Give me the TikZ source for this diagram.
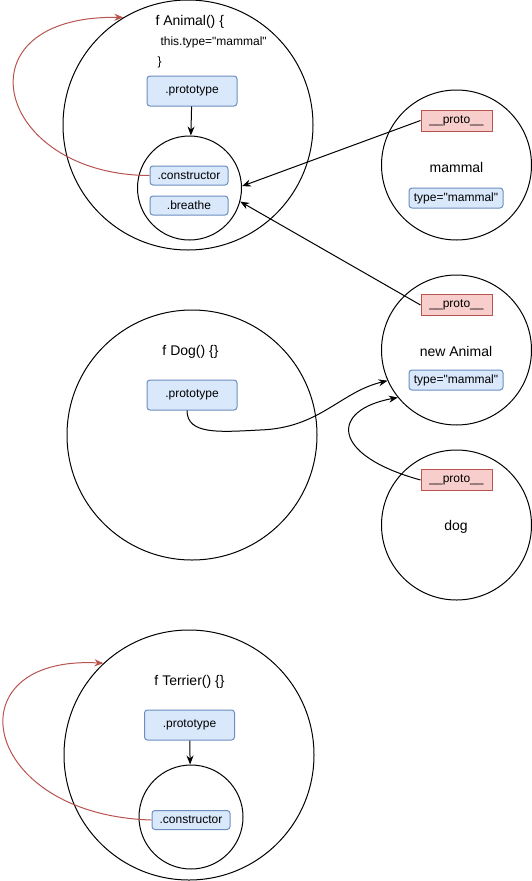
\documentclass[tikz,border=0pt]{standalone}
\usepackage{fontspec}
\setmainfont{Liberation Sans}[Ligatures=TeXOff]
\usetikzlibrary{arrows.meta}

\definecolor{fieldfill}{HTML}{DAE8FC}
\definecolor{fieldline}{HTML}{6C8EBF}
\definecolor{linkfill}{HTML}{F8CECC}
\definecolor{linkline}{HTML}{B85450}

\begin{document}
\begin{tikzpicture}[
    x=1pt, y=-1pt, line width=1pt,
    >={Stealth[length=9pt, width=7pt]}, % drawio-like arrows
    % Styles
    func/.style={ % Function object
        circle,
        draw,
        minimum size=250pt,
        inner sep=0pt
    },
    protocircle/.style={ % Prototype object
        circle,
        draw,
        minimum size=104pt,
        inner sep=0pt
    },
    instance/.style={ % Plain object
        circle,
        draw,
        minimum size=150pt,
        inner sep=0pt
    },
    field/.style={ % Property box
        rectangle,
        rounded corners=3pt,
        draw=fieldline,
        fill=fieldfill,
        inner sep=0pt,
        font=\fontsize{12}{14}\selectfont
    },
    link/.style={ % __proto__ box
        rectangle,
        draw=linkline,
        fill=linkfill,
        minimum width=71pt,
        minimum height=21pt,
        inner sep=0pt,
        font=\fontsize{12}{14}\selectfont
    },
    title/.style={
        inner sep=0pt,
        font=\fontsize{14}{16}\selectfont
    },
    code/.style={
        inner sep=0pt,
        font=\fontsize{12}{14}\selectfont
    },
    arrow/.style={
        ->
    },
    backlink/.style={ % constructor arrows
        arrow,
        draw=linkline
    }
]
    \useasboundingbox (0,0) rectangle (532,881);

    % Animal function
    \node[func] (animal) at (188,125) {};
    \node[title, anchor=west] (animalhead) at (155,22) {f Animal() \{};
    \node[code, anchor=west] (animalbody) at (160,42) {this.type="mammal"};
    \node[code, anchor=west] (animalend) at (157,62) {\}};
    \node[field, minimum width=90pt, minimum height=30pt] (animalprototype) at (192,91) {.prototype};
    \node[protocircle] (animalproto) at (189.5,188) {};
    \node[field, minimum width=78pt, minimum height=19pt] (animalctor) at (189,175.5) {.constructor};
    \node[field, minimum width=78pt, minimum height=19pt] (breathe) at (189,205.5) {.breathe};

    % mammal object
    \node[instance] (mammal) at (456.5,165) {};
    \node[link] (mammallink) at (456.5,120.5) {\_\_proto\_\_};
    \node[title] (mammalname) at (456.5,167) {mammal};
    \node[field, minimum width=94pt, minimum height=20pt] (mammaltype) at (456,198) {type="mammal"};

    % new Animal object
    \node[instance] (newanimal) at (456.5,350) {};
    \node[link] (newanimallink) at (456.5,305) {\_\_proto\_\_};
    \node[title] (newanimalname) at (456,351) {new Animal};
    \node[field, minimum width=94pt, minimum height=20pt] (newanimaltype) at (456,380) {type="mammal"};

    % dog object
    \node[instance] (dog) at (456.5,525) {};
    \node[link] (doglink) at (456.5,480) {\_\_proto\_\_};
    \node[title] (dogname) at (456,527) {dog};

    % Dog function
    \node[func] (dogfunc) at (192,435) {};
    \node[title] (doghead) at (190.5,352) {f Dog() \{\}};
    \node[field, minimum width=90pt, minimum height=30pt] (dogprototype) at (192,395) {.prototype};

    % Terrier function
    \node[func] (terrier) at (189,755) {};
    \node[title] (terrierhead) at (189.5,682) {f Terrier() \{\}};
    \node[field, minimum width=90pt, minimum height=30pt] (terrierprototype) at (189.5,725) {.prototype};
    \node[protocircle] (terrierproto) at (191,817) {};
    \node[field, minimum width=78pt, minimum height=19pt] (terrierctor) at (191,820) {.constructor};

    % prototype arrows
    \draw[arrow] (animalprototype) -- (animalproto);
    \draw[arrow] (terrierprototype) -- (terrierproto);

    % __proto__ arrows
    \draw[arrow] (mammallink.west) -- (animalproto.2);
    \draw[arrow] (newanimallink.west) -- (animalproto.-15);
    \draw[arrow] (doglink.west) .. controls (330,455) and (330,410) .. (newanimal.219);
    \draw[arrow] ([xshift=-5pt]dogprototype.south) .. controls (187,435) and (220,432) .. (260,430)
        .. controls (320,428) and (340,392) .. (newanimal.204);

    % constructor arrows
    \draw[backlink] (animalctor.west) .. controls (-5,175) and (-45,15) .. (animal.121);
    \draw[backlink] (terrierctor.west) .. controls (-20,815) and (-50,655) .. (terrier.133);
\end{tikzpicture}
\end{document}
